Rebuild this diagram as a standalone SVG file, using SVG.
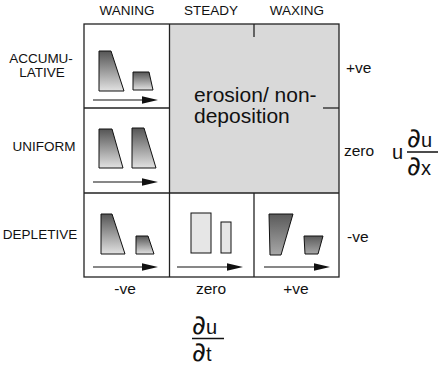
<svg xmlns="http://www.w3.org/2000/svg" width="441" height="366" viewBox="0 0 441 366">
<style>
text{font-family:"Liberation Sans",Arial,sans-serif;fill:#111}
.hdr{font-size:13.5px;text-anchor:middle}
.lab{font-size:15.5px}
.grid{fill:none;stroke:#222;stroke-width:1.3}
.shp{stroke:#111;stroke-width:1}
.g1{fill:url(#gA)}
.g2{fill:url(#gB)}
.flat{fill:#e6e6e6}
.arr{stroke:#111;stroke-width:1.2;fill:none}
.ah{fill:#111}
.big{font-size:21px}
.d{font-family:"DejaVu Sans",sans-serif;font-size:27px}
.u{font-size:20px}
</style>
<defs>
<linearGradient id="gA" x1="0" y1="0" x2="0" y2="1">
<stop offset="0" stop-color="#555"/>
<stop offset="1" stop-color="#e2e2e2"/>
</linearGradient>
<linearGradient id="gB" x1="0" y1="0" x2="0" y2="1">
<stop offset="0" stop-color="#5a5a5a"/>
<stop offset="1" stop-color="#a8a8a8"/>
</linearGradient>
</defs>

<g id="grid">
<rect x="169.5" y="24" width="169.5" height="169" fill="#d9d9d9"/>
<rect class="grid" x="84" y="24" width="255" height="253"/>
<line class="grid" x1="169.5" y1="24" x2="169.5" y2="277"/>
<line class="grid" x1="254" y1="193" x2="254" y2="277"/>
<line class="grid" x1="84" y1="108" x2="169.5" y2="108"/>
<line class="grid" x1="84" y1="193" x2="339" y2="193"/>
<line class="grid" x1="254" y1="24" x2="254" y2="37"/>
<line class="grid" x1="323" y1="108" x2="339" y2="108"/>
</g>

<g id="headers">
<text class="hdr" x="127" y="15">WANING</text>
<text class="hdr" x="211" y="15">STEADY</text>
<text class="hdr" x="297" y="15">WAXING</text>
<text class="hdr" x="41" y="63">ACCUMU-</text>
<text class="hdr" x="42" y="77">LATIVE</text>
<text class="hdr" x="44" y="151">UNIFORM</text>
<text class="hdr" x="40" y="239">DEPLETIVE</text>
</g>

<g id="cell-waning-accumulative">
<polygon class="shp g1" points="99,51 111,51 124,91 99,91"/>
<polygon class="shp g1" points="133,72 149,72 153,90 133,90"/>
<line class="arr" x1="93" y1="100" x2="145" y2="100"/>
<polygon class="ah" points="142,96.3 158,100 142,103.7"/>
</g>

<g id="cell-waning-uniform">
<polygon class="shp g1" points="99,129 112,129 123,168 99,168"/>
<polygon class="shp g1" points="132,128 144,128 156,168 132,168"/>
<line class="arr" x1="93" y1="182" x2="145" y2="182"/>
<polygon class="ah" points="142,178.3 158,182 142,185.7"/>
</g>

<g id="cell-waning-depletive">
<polygon class="shp g1" points="101,214 112,214 125,254 101,254"/>
<polygon class="shp g1" points="136,236 148,236 154,254 136,254"/>
<line class="arr" x1="93" y1="267" x2="145" y2="267"/>
<polygon class="ah" points="142,263.3 158,267 142,270.7"/>
</g>

<g id="cell-steady-depletive">
<rect class="shp flat" x="191" y="213" width="20" height="40"/>
<rect class="shp flat" x="221" y="222" width="10" height="31"/>
<line class="arr" x1="177" y1="267" x2="229" y2="267"/>
<polygon class="ah" points="227,263.3 243,267 227,270.7"/>
</g>

<g id="cell-waxing-depletive">
<polygon class="shp g2" points="269,214 293,214 281,255 270,255"/>
<polygon class="shp g2" points="304,236 323,236 318,254 305,254"/>
<line class="arr" x1="264" y1="267" x2="316" y2="267"/>
<polygon class="ah" points="314,263.3 330,267 314,270.7"/>
</g>

<g id="erosion">
<text class="big" x="194" y="102">erosion/ non-</text>
<text class="big" x="194" y="123">deposition</text>
</g>

<g id="right-labels">
<text class="lab" x="346" y="73">+ve</text>
<text class="lab" x="344" y="156">zero</text>
<text class="lab" x="347" y="242">-ve</text>
</g>

<g id="bottom-labels">
<text class="lab" x="125" y="294" text-anchor="middle">-ve</text>
<text class="lab" x="211" y="294" text-anchor="middle">zero</text>
<text class="lab" x="296" y="294" text-anchor="middle">+ve</text>
</g>

<g id="formula-x">
<text class="u" x="392" y="159">u</text>
<text x="407" y="147"><tspan class="d">∂</tspan><tspan class="u">u</tspan></text>
<line x1="407" y1="152" x2="438" y2="152" stroke="#111" stroke-width="1.5"/>
<text x="407" y="175"><tspan class="d">∂</tspan><tspan class="u">x</tspan></text>
</g>

<g id="formula-t">
<text x="192" y="334"><tspan class="d">∂</tspan><tspan class="u">u</tspan></text>
<line x1="192" y1="338.5" x2="224" y2="338.5" stroke="#111" stroke-width="1.5"/>
<text x="192" y="361"><tspan class="d">∂</tspan><tspan class="u">t</tspan></text>
</g>
</svg>
